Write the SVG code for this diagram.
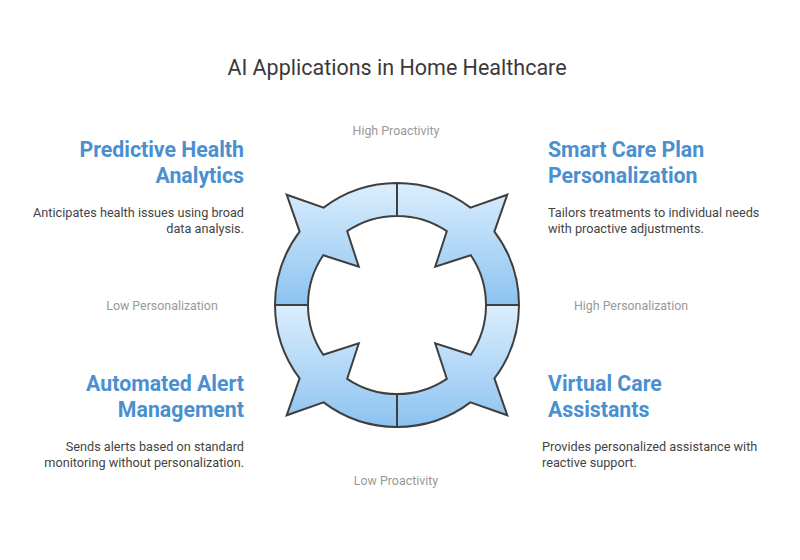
<svg xmlns="http://www.w3.org/2000/svg" width="800" height="560" viewBox="0 0 800 560">
<defs>
<linearGradient id="g" x1="0" y1="0" x2="0" y2="1">
<stop offset="0" stop-color="#dbeefd"/>
<stop offset="1" stop-color="#8cc3f1"/>
</linearGradient>
<style>
.seg{fill:url(#g);stroke:#3f3f3f;stroke-width:2;stroke-linejoin:miter}
.title{font-family:Roboto,"Liberation Sans",sans-serif;font-size:21.5px;fill:#3a3a3a}
.head{font-family:Roboto,"Liberation Sans",sans-serif;font-size:21.3px;font-weight:bold;fill:#4a90d0}
.desc{font-family:Roboto,"Liberation Sans",sans-serif;font-size:12.7px;fill:#444}
.axis{font-family:Roboto,"Liberation Sans",sans-serif;font-size:12.4px;fill:#999}
</style>
</defs>
<rect width="800" height="560" fill="#ffffff"/>
<text class="title" x="397" y="75" text-anchor="middle">AI Applications in Home Healthcare</text>
<g id="cycle">
<path id="seg-tl" class="seg" d="M275,305 A122,122 0 0 1 299.6,231.6 L286.7,194.7 L323.6,207.6 A122,122 0 0 1 397,183 L397,216 A89,89 0 0 0 347.2,231.2 L358.8,266.8 L323.2,255.2 A89,89 0 0 0 308,305 Z"/>
<path id="seg-tr" class="seg" d="M519,305 A122,122 0 0 0 494.4,231.6 L507.3,194.7 L470.4,207.6 A122,122 0 0 0 397,183 L397,216 A89,89 0 0 1 446.8,231.2 L435.2,266.8 L470.8,255.2 A89,89 0 0 1 486,305 Z"/>
<path id="seg-bl" class="seg" d="M275,305 A122,122 0 0 0 299.6,378.4 L286.7,415.3 L323.6,402.4 A122,122 0 0 0 397,427 L397,394 A89,89 0 0 1 347.2,378.8 L358.8,343.2 L323.2,354.8 A89,89 0 0 1 308,305 Z"/>
<path id="seg-br" class="seg" d="M519,305 A122,122 0 0 1 494.4,378.4 L507.3,415.3 L470.4,402.4 A122,122 0 0 1 397,427 L397,394 A89,89 0 0 0 446.8,378.8 L435.2,343.2 L470.8,354.8 A89,89 0 0 0 486,305 Z"/>
</g>
<g id="axes">
<text class="axis" x="396" y="135" text-anchor="middle">High Proactivity</text>
<text class="axis" x="396" y="485" text-anchor="middle">Low Proactivity</text>
<text class="axis" x="162" y="310" text-anchor="middle">Low Personalization</text>
<text class="axis" x="631" y="310" text-anchor="middle">High Personalization</text>
</g>
<g id="node-predictive">
<text class="head" text-anchor="end" x="244" y="157">Predictive Health</text>
<text class="head" text-anchor="end" x="244" y="183">Analytics</text>
<text class="desc" text-anchor="end" x="244" y="217">Anticipates health issues using broad</text>
<text class="desc" text-anchor="end" x="244" y="233">data analysis.</text>
</g>
<g id="node-smart">
<text class="head" x="548" y="157">Smart Care Plan</text>
<text class="head" x="548" y="183">Personalization</text>
<text class="desc" x="548" y="217">Tailors treatments to individual needs</text>
<text class="desc" x="548" y="233">with proactive adjustments.</text>
</g>
<g id="node-alert">
<text class="head" text-anchor="end" x="244" y="391">Automated Alert</text>
<text class="head" text-anchor="end" x="244" y="417">Management</text>
<text class="desc" text-anchor="end" x="244" y="451">Sends alerts based on standard</text>
<text class="desc" text-anchor="end" x="244" y="467">monitoring without personalization.</text>
</g>
<g id="node-virtual">
<text class="head" x="548" y="391">Virtual Care</text>
<text class="head" x="548" y="417">Assistants</text>
<text class="desc" x="542" y="451">Provides personalized assistance with</text>
<text class="desc" x="542" y="467">reactive support.</text>
</g>
</svg>
